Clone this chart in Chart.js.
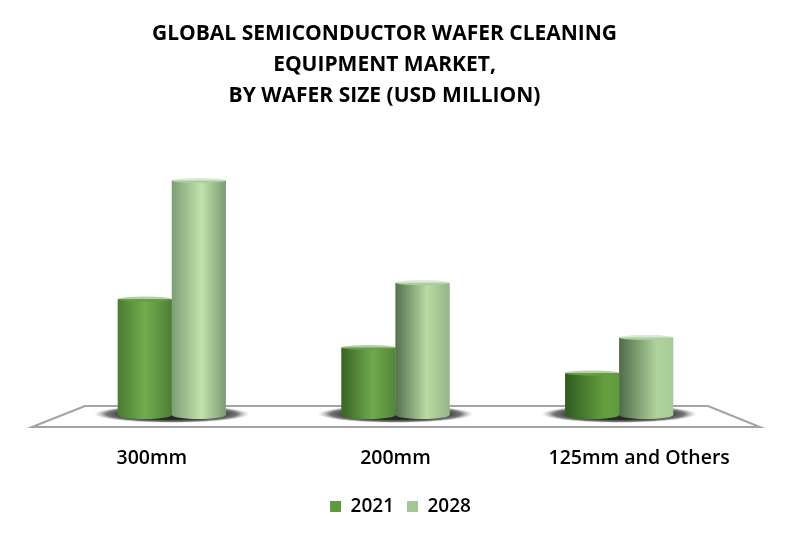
<!DOCTYPE html>
<html lang="en">
<head>
  <meta charset="UTF-8">
  <title>Semiconductor Wafer Cleaning Equipment Market</title>
  <script src="https://cdn.jsdelivr.net/npm/chart.js"></script>
  <style>
    body { margin: 0; background: #fff; }
    #wrap { width: 793px; height: 540px; }
  </style>
</head>
<body>
  <div id="wrap"><canvas id="chart"></canvas></div>
  <script>
    const titleLines = ['GLOBAL SEMICONDUCTOR WAFER CLEANING', 'EQUIPMENT MARKET,', 'BY WAFER SIZE (USD MILLION)'];
    const categories = ['300mm', '200mm', '125mm and Others'];
    const years = ['2021', '2028'];
    const values2021 = [127, 74, 46];
    const values2028 = [257, 145, 85];

    const legendColors = ['#5f9a3c', '#a5c794'];
    // shading per group, the highlight moves right with the groups: [left, mid, right, midStop]
    const shades = [
      [['#4a7a30', '#72ad50', '#4f7e35', 0.5], ['#7d9e75', '#c0e2ac', '#7b9b73', 0.55]],
      [['#3a6426', '#6eaa4c', '#548538', 0.58], ['#55704f', '#b8dba3', '#94b588', 0.58]],
      [['#2f5a20', '#66a040', '#5f9a3c', 0.75], ['#4f6b4a', '#b0d49c', '#a8cc96', 0.7]]
    ];
    // axis labels sit on the front of the floor, so they spread wider than the bars
    const labelSpread = 243.5 / 223.5;

    function barGradient(ctx, el, s) {
      const g = ctx.createLinearGradient(el.x - el.width / 2, 0, el.x + el.width / 2, 0);
      g.addColorStop(0, s[0]);
      g.addColorStop(s[3], s[1]);
      g.addColorStop(1, s[2]);
      return g;
    }

    const cylinderPlugin = {
      id: 'cylinder',
      afterLayout(chart) {
        // title and legend are off centre in the original
        chart.titleBlock.left -= 22;
        chart.legend.left += 5;
        chart.legend.right += 5;
      },
      beforeDatasetsDraw(chart) {
        const { ctx, chartArea } = chart;
        const b = chartArea.bottom;
        ctx.save();
        ctx.strokeStyle = '#a3a3a3';
        ctx.lineWidth = 2;
        ctx.fillStyle = '#fff';
        ctx.beginPath();
        ctx.moveTo(chartArea.left - 28, b + 12);
        ctx.lineTo(chartArea.left + 25, b - 9);
        ctx.lineTo(chartArea.right - 23, b - 9);
        ctx.lineTo(chartArea.right + 29, b + 12);
        ctx.closePath();
        ctx.fill();
        ctx.stroke();
        // soft shadow behind each pair
        categories.forEach((c, i) => {
          const a = chart.getDatasetMeta(0).data[i];
          const z = chart.getDatasetMeta(1).data[i];
          const cx = (a.x + z.x) / 2;
          const rx = (z.x + z.width / 2 - (a.x - a.width / 2)) / 2 + 24;
          ctx.save();
          ctx.translate(cx, b - 1);
          ctx.scale(1, 9 / rx);
          const g = ctx.createRadialGradient(0, 0, rx * 0.6, 0, 0, rx);
          g.addColorStop(0, 'rgba(40,40,40,1)');
          g.addColorStop(0.6, 'rgba(75,75,75,0.75)');
          g.addColorStop(1, 'rgba(170,170,170,0)');
          ctx.fillStyle = g;
          ctx.beginPath();
          ctx.arc(0, 0, rx, 0, Math.PI * 2);
          ctx.fill();
          ctx.restore();
        });
        ctx.restore();
      },
      afterDatasetsDraw(chart) {
        const { ctx } = chart;
        ctx.save();
        chart.data.datasets.forEach((d, di) => {
          chart.getDatasetMeta(di).data.forEach((el, i) => {
            const rx = el.width / 2;
            ctx.fillStyle = barGradient(ctx, el, shades[i][di]);
            ctx.beginPath();
            ctx.ellipse(el.x, el.y, rx, 2.5, 0, Math.PI, 0, true);
            ctx.lineTo(el.x + rx, el.base);
            ctx.ellipse(el.x, el.base, rx, 4, 0, 0, Math.PI);
            ctx.closePath();
            ctx.fill();
            // top end
            ctx.globalAlpha = 0.5;
            ctx.fillStyle = di === 0 ? '#6ba14a' : '#b5d3a8';
            ctx.beginPath();
            ctx.ellipse(el.x, el.y, rx, 2.5, 0, 0, Math.PI * 2);
            ctx.fill();
            ctx.globalAlpha = 1;
          });
        });
        // category labels
        const mid = chart.scales.x.getPixelForValue(1);
        ctx.fillStyle = '#000';
        ctx.font = '600 19.5px "Open Sans"';
        ctx.textAlign = 'center';
        ctx.textBaseline = 'middle';
        categories.forEach((c, i) => {
          const x = chart.scales.x.getPixelForValue(i);
          ctx.fillText(c, mid + (x - mid) * labelSpread, chart.chartArea.bottom + 43);
        });
        ctx.restore();
      }
    };

    new Chart(document.getElementById('chart'), {
      type: 'bar',
      data: {
        labels: categories,
        datasets: [
          { label: years[0], data: values2021 },
          { label: years[1], data: values2028 }
        ].map((d, di) => ({
          ...d,
          barPercentage: 1,
          categoryPercentage: 0.483,
          borderWidth: 0,
          backgroundColor: legendColors[di]
        }))
      },
      options: {
        responsive: true,
        maintainAspectRatio: false,
        animation: false,
        layout: { padding: { left: 60, right: 62, top: 0, bottom: 14 } },
        plugins: {
          title: {
            display: true,
            text: titleLines,
            color: '#000',
            font: { family: '"Open Sans"', size: 21, weight: '700', lineHeight: 1.48 },
            padding: { top: 18, bottom: 30 }
          },
          legend: {
            position: 'bottom',
            labels: {
              color: '#000',
              boxWidth: 11,
              boxHeight: 11,
              padding: 13,
              font: { family: '"Open Sans"', size: 19, weight: '600' }
            }
          },
          tooltip: { enabled: false }
        },
        scales: {
          x: {
            grid: { display: false },
            border: { display: false },
            ticks: { display: false },
            afterFit(scale) { scale.height = 69; }
          },
          y: { display: false, min: 0, max: 300 }
        }
      },
      plugins: [cylinderPlugin]
    });
  </script>
</body>
</html>
